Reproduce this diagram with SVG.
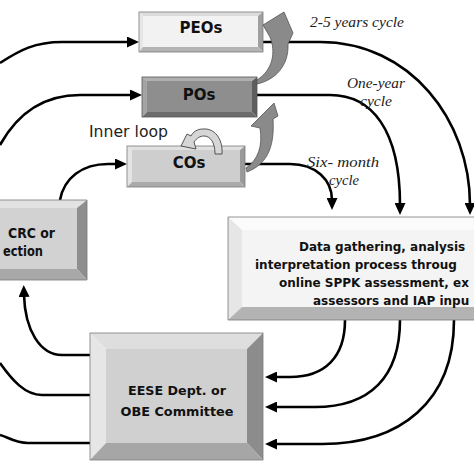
<svg xmlns="http://www.w3.org/2000/svg" width="474" height="474" viewBox="0 0 474 474">
<style>
.ln{fill:none;stroke:#000;stroke-width:2.6;marker-end:url(#ah)}
.ln0{fill:none;stroke:#000;stroke-width:2.6}
.bx{font-family:"DejaVu Sans",sans-serif;font-weight:bold;fill:#111}
.it{font-family:"Liberation Serif",serif;font-style:italic;font-size:14px;fill:#222}
.ol{stroke:#7a7a7a;stroke-width:0.8}
</style>
<defs>
<marker id="ah" markerUnits="userSpaceOnUse" markerWidth="12" markerHeight="11" refX="2" refY="5.5" orient="auto">
<path d="M0,0 L12,5.5 L0,11 Z" fill="#000"/>
</marker>
</defs>
<rect width="474" height="474" fill="#fff"/>

<g id="connectors">
<path class="ln" d="M0,63 C20,50 35,42 62,42 L129,42"/>
<path class="ln" d="M0,145 C15,118 40,95 80,95 L132,95"/>
<path class="ln" d="M60,200 C64,178 82,164 108,164 L117,164"/>
<path class="ln" d="M263,42 L320,42 C410,42 470,120 470,205"/>
<path class="ln" d="M257,95 L330,95 C372,95 400,130 400,205"/>
<path class="ln" d="M245,164 L290,164 C316,164 332,180 332,200"/>
<path class="ln" d="M345,320 C345,357 325,377 290,377 L275,377"/>
<path class="ln" d="M400,320 C400,377 370,407 315,407 L275,407"/>
<path class="ln" d="M454,320 C454,402 400,444 322,444 L275,444"/>
<path class="ln" d="M90,355 L62,355 C40,355 25,330 24,295"/>
<path class="ln0" d="M90,395 L42,395 C25,395 12,380 0,363"/>
<path class="ln0" d="M90,443 L28,443 C15,443 8,437 0,435"/>
</g>

<g id="PEOs">
<polygon points="139,12 263,12 258,16 143,16" fill="#dcdcdc"/>
<polygon points="139,12 143,16 143,47 139,52" fill="#e6e6e6"/>
<polygon points="263,12 263,52 258,47 258,16" fill="#a0a0a0"/>
<polygon points="139,52 143,47 258,47 263,52" fill="#b4b4b4"/>
<rect x="143" y="16" width="115" height="31" fill="#f2f2f2"/>
<rect x="139" y="12" width="124" height="40" fill="none" class="ol"/>
<text class="bx" x="201" y="33" font-size="15" text-anchor="middle">PEOs</text>
</g>

<g id="POs">
<polygon points="142,77 257,77 252,81 147,81" fill="#b0b0b0"/>
<polygon points="142,77 147,81 147,112 142,117" fill="#a4a4a4"/>
<polygon points="257,77 257,117 252,112 252,81" fill="#5e5e5e"/>
<polygon points="142,117 147,112 252,112 257,117" fill="#6c6c6c"/>
<rect x="147" y="81" width="105" height="31" fill="#8e8e8e"/>
<rect x="142" y="77" width="115" height="40" fill="none" stroke="#555" stroke-width="0.8"/>
<text class="bx" x="199" y="100" font-size="15" text-anchor="middle">POs</text>
</g>

<g id="COs">
<polygon points="127,146 245,146 240,150 132,150" fill="#e0e0e0"/>
<polygon points="127,146 132,150 132,182 127,187" fill="#e4e4e4"/>
<polygon points="245,146 245,187 240,182 240,150" fill="#9a9a9a"/>
<polygon points="127,187 132,182 240,182 245,187" fill="#aaaaaa"/>
<rect x="132" y="150" width="108" height="32" fill="#cecece"/>
<rect x="127" y="146" width="118" height="41" fill="none" class="ol"/>
<text class="bx" x="189" y="168" font-size="15" text-anchor="middle">COs</text>
</g>

<g id="grey-arrows">
<path d="M257,84 C275,80 289,66 288,44 L293,33 L284,12 L263,25 L270,37 C276,52 273,70 257,80 Z" fill="#8a8a8a" stroke="#555" stroke-width="0.8"/>
<path d="M247,172 C265,165 275,150 273,119 L278,116 L274,103 L251,126 L260,128 C263,146 258,160 246,168 Z" fill="#8a8a8a" stroke="#555" stroke-width="0.8"/>
<path d="M222,154 C223,138 214,128 203,129 C197,129 193,132 191,136 L187,134 L181,146 L196,149 L194,142 C197,138 200,136 204,136 C210,136 215,142 215,154 Z" fill="#d6d6d6" stroke="#444" stroke-width="0.9"/>
</g>

<g id="CRC">
<polygon points="0,200 87,200 77,208 0,208" fill="#e2e2e2"/>
<polygon points="87,200 87,280 77,269 77,208" fill="#8e8e8e"/>
<polygon points="0,280 0,269 77,269 87,280" fill="#a8a8a8"/>
<rect x="0" y="208" width="77" height="61" fill="#d2d2d2"/>
<path d="M0,200 H87 V280 H0" fill="none" class="ol"/>
<text class="bx" x="8" y="238" font-size="14" textLength="47" lengthAdjust="spacingAndGlyphs">CRC or</text>
<text class="bx" x="3" y="256" font-size="14" textLength="40" lengthAdjust="spacingAndGlyphs">ection</text>
</g>

<g id="Data">
<polygon points="228,217 474,217 474,230 242,230" fill="#fbfbfb"/>
<polygon points="228,217 242,230 242,307 228,320" fill="#e6e6e6"/>
<polygon points="228,320 242,307 474,307 474,320" fill="#b3b3b3"/>
<rect x="242" y="230" width="232" height="77" fill="#f4f4f4"/>
<path d="M474,217 H228 V320 H474" fill="none" class="ol"/>
<text class="bx" x="299" y="251" font-size="12">Data gathering, analysis</text>
<text class="bx" x="255" y="269" font-size="12">interpretation process throug</text>
<text class="bx" x="279" y="287" font-size="12">online SPPK assessment, ex</text>
<text class="bx" x="313" y="305" font-size="12">assessors and IAP inpu</text>
</g>

<g id="EESE">
<polygon points="90,333 263,333 247,349 106,349" fill="#dedede"/>
<polygon points="90,333 106,349 106,443 90,460" fill="#e6e6e6"/>
<polygon points="263,333 263,460 247,443 247,349" fill="#8c8c8c"/>
<polygon points="90,460 106,443 247,443 263,460" fill="#a6a6a6"/>
<rect x="106" y="349" width="141" height="94" fill="#d0d0d0"/>
<rect x="90" y="333" width="173" height="127" fill="none" class="ol"/>
<text class="bx" x="177" y="395" font-size="13" text-anchor="middle" textLength="98" lengthAdjust="spacingAndGlyphs">EESE Dept. or</text>
<text class="bx" x="177" y="416" font-size="13" text-anchor="middle" textLength="113" lengthAdjust="spacingAndGlyphs">OBE Committee</text>
</g>

<g id="labels">
<text x="89" y="137" font-family="DejaVu Sans, sans-serif" font-size="15" fill="#222" textLength="79" lengthAdjust="spacingAndGlyphs">Inner loop</text>
<text class="it" x="310" y="27" textLength="94" lengthAdjust="spacingAndGlyphs">2-5 years cycle</text>
<text class="it" x="347" y="88" textLength="58" lengthAdjust="spacingAndGlyphs">One-year</text>
<text class="it" x="360" y="106" textLength="32" lengthAdjust="spacingAndGlyphs">cycle</text>
<text class="it" x="307" y="167" textLength="72" lengthAdjust="spacingAndGlyphs">Six- month</text>
<text class="it" x="329" y="185" textLength="30" lengthAdjust="spacingAndGlyphs">cycle</text>
</g>
</svg>
